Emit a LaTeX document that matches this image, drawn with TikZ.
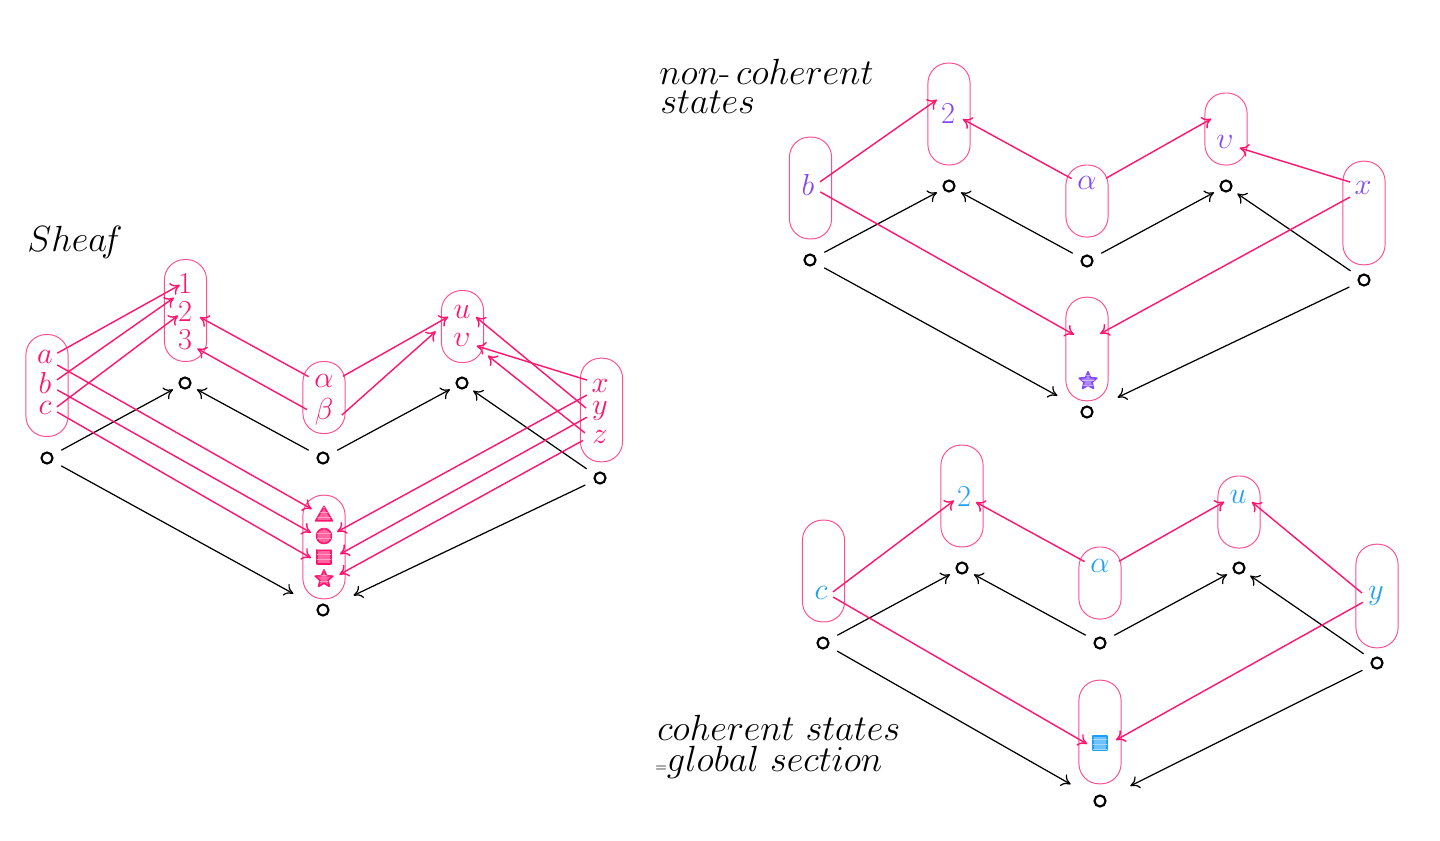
\documentclass[tikz,border=0pt]{standalone}
\usepackage{amsmath}
\usepackage{amssymb}
\usetikzlibrary{arrows.meta, positioning, shapes.geometric, patterns}
\definecolor{sheafpink}{RGB}{255,20,110}
\definecolor{statepurple}{RGB}{130,70,250}
\definecolor{stateblue}{RGB}{30,160,250}
\tikzset{
  fibrebox/.style={draw=sheafpink!75, rounded corners=11.5pt, minimum width=24pt, inner sep=0pt, line width=0.55pt},
  fibrelabel/.style={text=sheafpink, inner sep=0pt, font=\fontsize{18}{20}\selectfont},
  shapemark/.style={draw=#1, fill=#1!65, line width=0.9pt, line join=round, inner sep=0pt, postaction={pattern=horizontal lines, pattern color=#1!40}},
  basepoint/.style={circle, draw=black, line width=1.2pt, inner sep=0pt, minimum size=6.3pt},
  baseedge/.style={->, >={To[length=5pt,width=7.5pt]}, line width=0.7pt, shorten <=5.5pt, shorten >=4pt},
  bottomedge/.style={baseedge, shorten >=15.5pt},
  fibreedge/.style={->, >={To[length=5pt,width=7.5pt]}, draw=sheafpink, line width=0.8pt},
  headline/.style={anchor=west, inner sep=0pt, font=\huge},
}
\begin{document}
\begin{tikzpicture}[x=0.02cm, y=-0.02cm]
\useasboundingbox (0,0) rectangle (1440,840);

% sheaf
\node[headline] (sheaftitle) at (27,242) {$Shea\!f$};
\node[basepoint] (p1) at (47,458) {};
\node[basepoint] (p2) at (185,383) {};
\node[basepoint] (p3) at (323,458) {};
\node[basepoint] (p4) at (462,383) {};
\node[basepoint] (p5) at (600,478) {};
\node[basepoint] (p6) at (323,610) {};
\draw[baseedge] (p1) -- (p2);
\draw[baseedge] (p3) -- (p2);
\draw[baseedge] (p3) -- (p4);
\draw[baseedge] (p5) -- (p4);
\draw[bottomedge] (p1) -- (p6);
\draw[bottomedge] (p5) -- (p6);
\node[fibrebox, minimum height=58pt] (box1) at (47,385.5) {};
\node[fibrebox, minimum height=58pt] (box2) at (185.5,310.5) {};
\node[fibrebox, minimum height=41pt] (box3) at (324,397.5) {};
\node[fibrebox, minimum height=41pt] (box4) at (462.5,326.5) {};
\node[fibrebox, minimum height=59pt] (box5) at (601.5,410) {};
\node[fibrebox, minimum height=59pt] (box6) at (324,547) {};
\node[fibrelabel] (a) at (45,357) {$a$};
\node[fibrelabel] (b) at (45,383) {$b$};
\node[fibrelabel] (c) at (45,408) {$c$};
\node[fibrelabel] (n1) at (185,284) {$1$};
\node[fibrelabel] (n2) at (185,312) {$2$};
\node[fibrelabel] (n3) at (185,340) {$3$};
\node[fibrelabel] (al) at (324,381) {$\alpha$};
\node[fibrelabel] (be) at (324,412) {$\beta$};
\node[fibrelabel] (u) at (462,312) {$u$};
\node[fibrelabel] (v) at (462,340) {$\upsilon$};
\node[fibrelabel] (x) at (600,386) {$x$};
\node[fibrelabel] (y) at (600,411) {$y$};
\node[fibrelabel] (z) at (600,437) {$z$};
\node[regular polygon, regular polygon sides=3, shapemark=sheafpink, minimum size=11pt] (tri) at (324,516) {};
\node[circle, shapemark=sheafpink, minimum size=8.5pt] (cir) at (324,536) {};
\node[rectangle, shapemark=sheafpink, minimum size=8pt] (squ) at (324,557) {};
\node[star, star points=5, star point ratio=2.2, shapemark=sheafpink, minimum size=10.5pt] (sta) at (324,579) {};
\draw[fibreedge, shorten <=8pt, shorten >=3.4pt] ([yshift=-1.7pt]a.center) -- ([yshift=1.1pt]n1.center);
\draw[fibreedge, shorten <=8.3pt, shorten >=7.7pt] ([yshift=-3pt]b.center) -- ([yshift=-3.4pt]n1.center);
\draw[fibreedge, shorten <=8.5pt, shorten >=5pt] ([yshift=-4.5pt]c.center) -- ([yshift=1pt]n2.center);
\draw[fibreedge, shorten <=10pt, shorten >=9.6pt] ([yshift=-2.3pt]al.center) -- ([yshift=1.7pt]n2.center);
\draw[fibreedge, shorten <=11pt, shorten >=8pt] ([yshift=-4pt]be.center) -- ([yshift=-1pt]n3.center);
\draw[fibreedge, shorten <=12.4pt, shorten >=9pt] ([yshift=-3.4pt]al.center) -- ([yshift=1.7pt]u.center);
\draw[fibreedge, shorten <=13.6pt, shorten >=20pt] ([yshift=-10.8pt]be.center) -- ([yshift=2.3pt]u.center);
\draw[fibreedge, shorten <=7.7pt, shorten >=8.7pt] ([yshift=1.1pt]x.center) -- ([yshift=-0.8pt]v.center);
\draw[fibreedge, shorten <=10.3pt, shorten >=10.3pt] ([yshift=-4.9pt]y.center) -- ([yshift=3.7pt]u.center);
\draw[fibreedge, shorten <=11pt, shorten >=18.8pt] ([yshift=-4.5pt]z.center) -- ([yshift=2.8pt]v.center);
\draw[fibreedge, shorten <=8pt, shorten >=8pt] ([yshift=-0.6pt]a.center) -- (tri.center);
\draw[fibreedge, shorten <=8pt, shorten >=8.5pt] (b.center) -- ([yshift=-2.3pt]cir.center);
\draw[fibreedge, shorten <=8pt, shorten >=8.5pt] ([yshift=1.7pt]c.center) -- ([yshift=-4.8pt]squ.center);
\draw[fibreedge, shorten <=8.5pt, shorten >=8.5pt] ([yshift=-1.1pt]x.center) -- ([yshift=-1.7pt]cir.center);
\draw[fibreedge, shorten <=8.5pt, shorten >=10.4pt] ([yshift=0.6pt]y.center) -- ([yshift=-3.4pt]squ.center);
\draw[fibreedge, shorten <=11pt, shorten >=10pt] ([yshift=3.4pt]z.center) -- ([yshift=-2.3pt]sta.center);

% non-coherent states
\node[headline] (nctitle) at (659,72) {$non\text{-}\,coherent$};
\node[headline] (nctitleb) at (660,102) {$states$};
\node[basepoint] (q1) at (810,260) {};
\node[basepoint] (q2) at (949,186) {};
\node[basepoint] (q3) at (1087,261) {};
\node[basepoint] (q4) at (1226,186) {};
\node[basepoint] (q5) at (1364,280) {};
\node[basepoint] (q6) at (1087,412) {};
\draw[baseedge] (q1) -- (q2);
\draw[baseedge] (q3) -- (q2);
\draw[baseedge] (q3) -- (q4);
\draw[baseedge] (q5) -- (q4);
\draw[bottomedge] (q1) -- (q6);
\draw[bottomedge] (q5) -- (q6);
\node[fibrebox, minimum height=58pt] (qbox1) at (810.5,188) {};
\node[fibrebox, minimum height=58pt] (qbox2) at (949,114) {};
\node[fibrebox, minimum height=41pt] (qbox3) at (1087,201) {};
\node[fibrebox, minimum height=41pt] (qbox4) at (1226,129) {};
\node[fibrebox, minimum height=59pt] (qbox5) at (1364,213) {};
\node[fibrebox, minimum height=59pt] (qbox6) at (1087,349) {};
\coordinate (qn1) at (948,86);
\coordinate (qu) at (1225,114);
\coordinate (qcir) at (1087,338);
\node[fibrelabel, text=statepurple] (qb) at (808,185) {$b$};
\node[fibrelabel, text=statepurple] (qn2) at (948,114) {$2$};
\node[fibrelabel, text=statepurple] (qal) at (1087,183) {$\alpha$};
\node[fibrelabel, text=statepurple] (qv) at (1225,142) {$\upsilon$};
\node[fibrelabel, text=statepurple] (qx) at (1363,188) {$x$};
\node[star, star points=5, star point ratio=2.2, shapemark=statepurple, minimum size=10.5pt] (qsta) at (1088,381) {};
\draw[fibreedge, shorten <=8.3pt, shorten >=7.7pt] ([yshift=-3pt]qb.center) -- ([yshift=-3.4pt]qn1);
\draw[fibreedge, shorten <=10pt, shorten >=9.6pt] ([yshift=-2.3pt]qal.center) -- ([yshift=1.7pt]qn2.center);
\draw[fibreedge, shorten <=12.4pt, shorten >=9pt] ([yshift=-3.4pt]qal.center) -- ([yshift=1.7pt]qu);
\draw[fibreedge, shorten <=7.7pt, shorten >=8.7pt] ([yshift=1.1pt]qx.center) -- ([yshift=-0.8pt]qv.center);
\draw[fibreedge, shorten <=8pt, shorten >=8.5pt] (qb.center) -- ([yshift=-2.3pt]qcir);
\draw[fibreedge, shorten <=8.5pt, shorten >=8.5pt] ([yshift=-1.1pt]qx.center) -- ([yshift=-1.7pt]qcir);

% coherent states
\node[headline] (ctitle) at (657,728) {$coherent\ states$};
\node[headline] (ctitleb) at (655,762) {{\footnotesize$=$}$global\ section$};
\node[basepoint] (r1) at (823,643) {};
\node[basepoint] (r2) at (962,568) {};
\node[basepoint] (r3) at (1100,643) {};
\node[basepoint] (r4) at (1239,568) {};
\node[basepoint] (r5) at (1377,663) {};
\node[basepoint] (r6) at (1100,801) {};
\draw[baseedge] (r1) -- (r2);
\draw[baseedge] (r3) -- (r2);
\draw[baseedge] (r3) -- (r4);
\draw[baseedge] (r5) -- (r4);
\draw[bottomedge] (r1) -- (r6);
\draw[bottomedge] (r5) -- (r6);
\node[fibrebox, minimum height=58pt] (rbox1) at (823.5,571) {};
\node[fibrebox, minimum height=58pt] (rbox2) at (962,496) {};
\node[fibrebox, minimum height=41pt] (rbox3) at (1100,583) {};
\node[fibrebox, minimum height=41pt] (rbox4) at (1239,512) {};
\node[fibrebox, minimum height=59pt] (rbox5) at (1377,596) {};
\node[fibrebox, minimum height=59pt] (rbox6) at (1100,732) {};
\node[fibrelabel, text=stateblue] (rc) at (821,593) {$c$};
\node[fibrelabel, text=stateblue] (rn2) at (964,497) {$2$};
\node[fibrelabel, text=stateblue] (ral) at (1100,566) {$\alpha$};
\node[fibrelabel, text=stateblue] (ru) at (1238,497) {$u$};
\node[fibrelabel, text=stateblue] (ry) at (1376,596) {$y$};
\node[rectangle, shapemark=stateblue, minimum size=8pt] (rsqu) at (1100,743) {};
\draw[fibreedge, shorten <=8.5pt, shorten >=5pt] ([yshift=-4.5pt]rc.center) -- ([xshift=-1.7pt,yshift=1pt]rn2.center);
\draw[fibreedge, shorten <=10pt, shorten >=9.6pt] ([yshift=-2.3pt]ral.center) -- ([xshift=-1.7pt,yshift=1.7pt]rn2.center);
\draw[fibreedge, shorten <=12.4pt, shorten >=9pt] ([yshift=-3.4pt]ral.center) -- ([yshift=1.7pt]ru.center);
\draw[fibreedge, shorten <=10.3pt, shorten >=10.3pt] ([yshift=-4.9pt]ry.center) -- ([yshift=3.7pt]ru.center);
\draw[fibreedge, shorten <=8pt, shorten >=8.5pt] ([yshift=1.7pt]rc.center) -- ([yshift=-4.8pt]rsqu.center);
\draw[fibreedge, shorten <=8.5pt, shorten >=10.4pt] ([yshift=0.6pt]ry.center) -- ([yshift=-3.4pt]rsqu.center);
\end{tikzpicture}
\end{document}
